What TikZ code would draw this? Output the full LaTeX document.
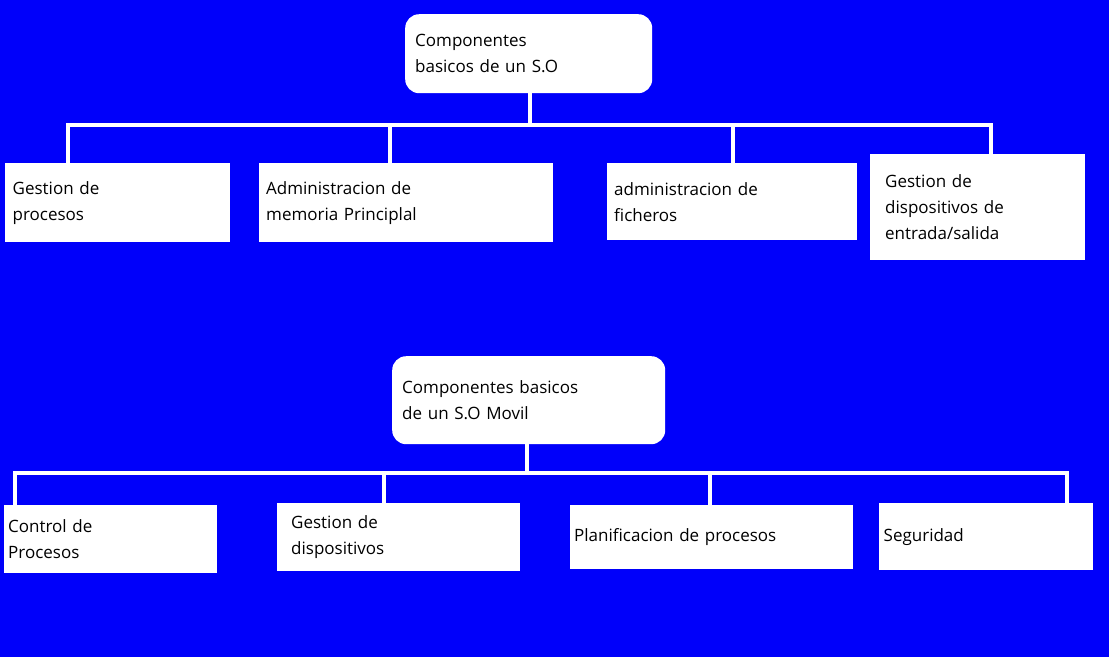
\documentclass[tikz,border=0pt]{standalone}
\usepackage{fontspec}
\setmainfont{Open Sans}
\definecolor{bgblue}{RGB}{0,0,250}
\begin{document}
\begin{tikzpicture}[x=1pt, y=-1pt,
  box/.style={rectangle, fill=white, align=left, anchor=north west, inner sep=0pt, font=\fontsize{17}{26}\selectfont},
  rootbox/.style={box, rounded corners=14pt},
  link/.style={white, line width=4pt}
]
\fill[bgblue] (0,0) rectangle (1109,657);
\useasboundingbox (0,0) rectangle (1109,657);

% Sistema operativo
\node[rootbox, minimum width=247pt, minimum height=79pt, text width=227pt] (so) at (405,14) {Componentes\\basicos de un S.O};
\node[box, minimum width=225pt, minimum height=79pt, text width=210pt] (procesos) at (5,163) {Gestion de\\procesos};
\node[box, minimum width=294pt, minimum height=79pt, text width=280pt] (memoria) at (259,163) {Administracion de\\memoria Principlal};
\node[box, minimum width=250pt, minimum height=77pt, text width=236pt] (ficheros) at (607,163) {administracion de\\ficheros};
\node[box, minimum width=215pt, minimum height=106pt, text width=185pt] (dispositivos) at (870,154) {Gestion de\\dispositivos de\\entrada/salida};

% Sistema operativo movil
\node[rootbox, minimum width=273pt, minimum height=88pt, text width=253pt] (movil) at (392,356) {Componentes basicos\\de un S.O Movil};
\node[box, minimum width=213pt, minimum height=68pt, text width=205pt] (control) at (4,505) {Control de\\Procesos};
\node[box, minimum width=243pt, minimum height=68pt, text width=215pt] (gestion) at (277,503) {Gestion de\\dispositivos};
\node[box, minimum width=283pt, minimum height=64pt, text width=275pt] (planificacion) at (570,505) {Planificacion de procesos};
\node[box, minimum width=214pt, minimum height=67pt, text width=205pt] (seguridad) at (879,503) {Seguridad};

% Conectores
\coordinate (busA) at (530,125);
\draw[link] (so.south -| busA) -- (busA);
\draw[link] (procesos.north -| 68,0) -- (68,125) -- (991,125) -- (dispositivos.north -| 991,0);
\draw[link] (390,125) -- (memoria.north -| 390,0);
\draw[link] (733,125) -- (ficheros.north -| 733,0);

\coordinate (busB) at (527,473);
\draw[link] (movil.south -| busB) -- (busB);
\draw[link] (control.north -| 15,0) -- (15,473) -- (1067,473) -- (seguridad.north -| 1067,0);
\draw[link] (384,473) -- (gestion.north -| 384,0);
\draw[link] (710,473) -- (planificacion.north -| 710,0);
\end{tikzpicture}
\end{document}
